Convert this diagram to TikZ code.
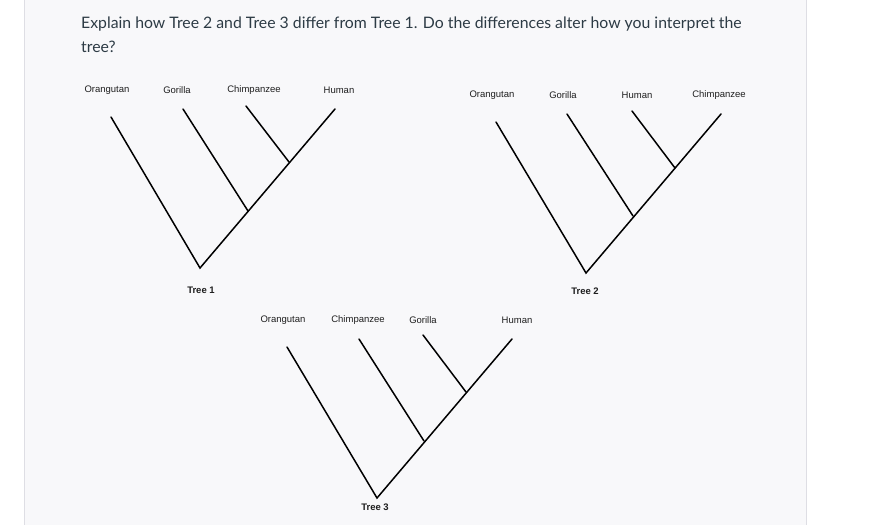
\documentclass[tikz,border=0pt]{standalone}
\usepackage{fontspec}
\setmainfont{Lato}
\newfontfamily\labelfont{Liberation Sans}
\usetikzlibrary{positioning}
\definecolor{panel}{RGB}{248,248,250}
\definecolor{rim}{RGB}{222,222,228}
\definecolor{ink}{RGB}{45,59,69}
\definecolor{leafink}{RGB}{30,30,30}

\begin{document}
\begin{tikzpicture}[x=1pt, y=-1pt,
    leaf/.style={font=\labelfont\fontsize{9.5}{11}\selectfont, text=leafink, inner sep=0pt},
    treename/.style={font=\labelfont\bfseries\fontsize{9.5}{11}\selectfont, text=leafink, inner sep=0pt},
    branch/.style={line width=1.5pt, line cap=round, black}]
%      \draw [help lines, opacity=1] (0,0) grid [step=50] (872,525);

      \useasboundingbox (0,0) rectangle (872,525);
      \fill [white] (0,0) rectangle (872,525);
      \fill [panel] (24.5,0) rectangle (806,525);
      \draw [rim, line width=1pt] (24.5,0) -- (24.5,525);
      \draw [rim, line width=1pt] (806,0) -- (806,525);

      \node [anchor=north west, align=left, inner sep=0pt, text=ink,
             font=\fontsize{15.8}{23.5}\selectfont] (question) at (81,17)
        {Explain how Tree 2 and Tree 3 differ from Tree 1. Do the differences alter how you interpret the\\
         tree?};

      % tree 1
      \coordinate (r1) at (200,268);
      \coordinate (o1) at (111,117);
      \coordinate (g1) at (183,109);
      \coordinate (gj1) at (248,211);
      \coordinate (c1) at (246,106);
      \coordinate (cj1) at (289,162);
      \coordinate (h1) at (335,109);
      \draw [branch] (o1) -- (r1) -- (h1);
      \draw [branch] (g1) -- (gj1);
      \draw [branch] (c1) -- (cj1);
      \node [leaf] (lo1) at (107,90) {Orangutan};
      \node [leaf] (lg1) at (177,90) {Gorilla};
      \node [leaf] (lc1) at (254,90) {Chimpanzee};
      \node [leaf] (lh1) at (339,90) {Human};
      \node [treename] (t1) at (201,290) {Tree 1};

      % tree 2
      \coordinate (r2) at (586,273);
      \coordinate (o2) at (496,122);
      \coordinate (g2) at (567,114);
      \coordinate (gj2) at (633,216);
      \coordinate (h2) at (632,111);
      \coordinate (hj2) at (675,168);
      \coordinate (c2) at (721,114);
      \draw [branch] (o2) -- (r2) -- (c2);
      \draw [branch] (g2) -- (gj2);
      \draw [branch] (h2) -- (hj2);
      \node [leaf] (lo2) at (492,95) {Orangutan};
      \node [leaf] (lg2) at (563,95) {Gorilla};
      \node [leaf] (lh2) at (637,95) {Human};
      \node [leaf] (lc2) at (719,95) {Chimpanzee};
      \node [treename] (t2) at (585,291) {Tree 2};

      % tree 3
      \coordinate (r3) at (377,498);
      \coordinate (o3) at (287,347);
      \coordinate (c3) at (359,339);
      \coordinate (cj3) at (424,441);
      \coordinate (g3) at (423,335);
      \coordinate (gj3) at (466,392);
      \coordinate (h3) at (512,339);
      \draw [branch] (o3) -- (r3) -- (h3);
      \draw [branch] (c3) -- (cj3);
      \draw [branch] (g3) -- (gj3);
      \node [leaf] (lo3) at (283,320) {Orangutan};
      \node [leaf] (lc3) at (358,320) {Chimpanzee};
      \node [leaf] (lg3) at (423,320) {Gorilla};
      \node [leaf] (lh3) at (517,320) {Human};
      \node [treename] (t3) at (375,507) {Tree 3};

\end{tikzpicture}
\end{document}
